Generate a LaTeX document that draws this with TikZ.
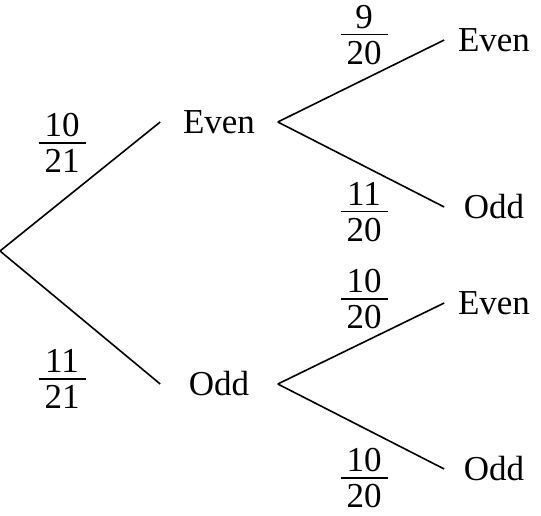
\documentclass[tikz,border=0pt]{standalone}
\usepackage{amsmath}
\usepackage{fontspec}
\setmainfont{Liberation Serif}
\usepackage{tikz}

% stacked fraction for the branch probabilities
\newcommand{\branchfrac}[2]{\vbox{\offinterlineskip\halign{\hfil##\hfil\cr
  #1\cr\noalign{\kern5pt}\rule{47pt}{1.6pt}\cr\noalign{\kern5.5pt}#2\cr}}}

\begin{document}
\begin{tikzpicture}[x=1pt,y=-1pt,line width=1.6pt,font=\fontsize{35}{42}\selectfont]
    \tikzstyle{outcome}=[inner sep=0pt,text height=23pt,text depth=0pt]
    \tikzstyle{stage}=[outcome,minimum width=116pt]
    \tikzstyle{leaf}=[outcome,minimum width=98pt]
    \tikzstyle{prob}=[inner sep=0pt]

    \useasboundingbox (0,0) rectangle (541,516);

    \coordinate (R) at (0,251);

    % Draw the first stage
    \node[stage] (E) at (219,122) {Even};
    \node[stage] (O) at (219,384) {Odd};

    % Draw the second stage
    \foreach \name / \y / \txt in {EE/40/Even,EO/207/Odd,OE/303/Even,OO/469/Odd}
        \node[leaf] (\name) at (494,\y) {\txt};

    % Connect the root with the first stage
    \foreach \dest in {E,O}
        \draw (R) -- (\dest.west);

    % Connect each first stage node with its outcomes
    \foreach \source / \dest in {E/EE,E/EO,O/OE,O/OO}
        \draw (\source.east) -- (\dest.west);

    % Annotate the branches
    \node[prob] (pE) at (62,143) {\branchfrac{10}{21}};
    \node[prob] (pO) at (62,379) {\branchfrac{11}{21}};
    \node[prob] (pEE) at (364,35) {\branchfrac{9}{20}};
    \node[prob] (pEO) at (364,212) {\branchfrac{11}{20}};
    \node[prob] (pOE) at (364,299) {\branchfrac{10}{20}};
    \node[prob] (pOO) at (364,478) {\branchfrac{10}{20}};
\end{tikzpicture}
\end{document}
